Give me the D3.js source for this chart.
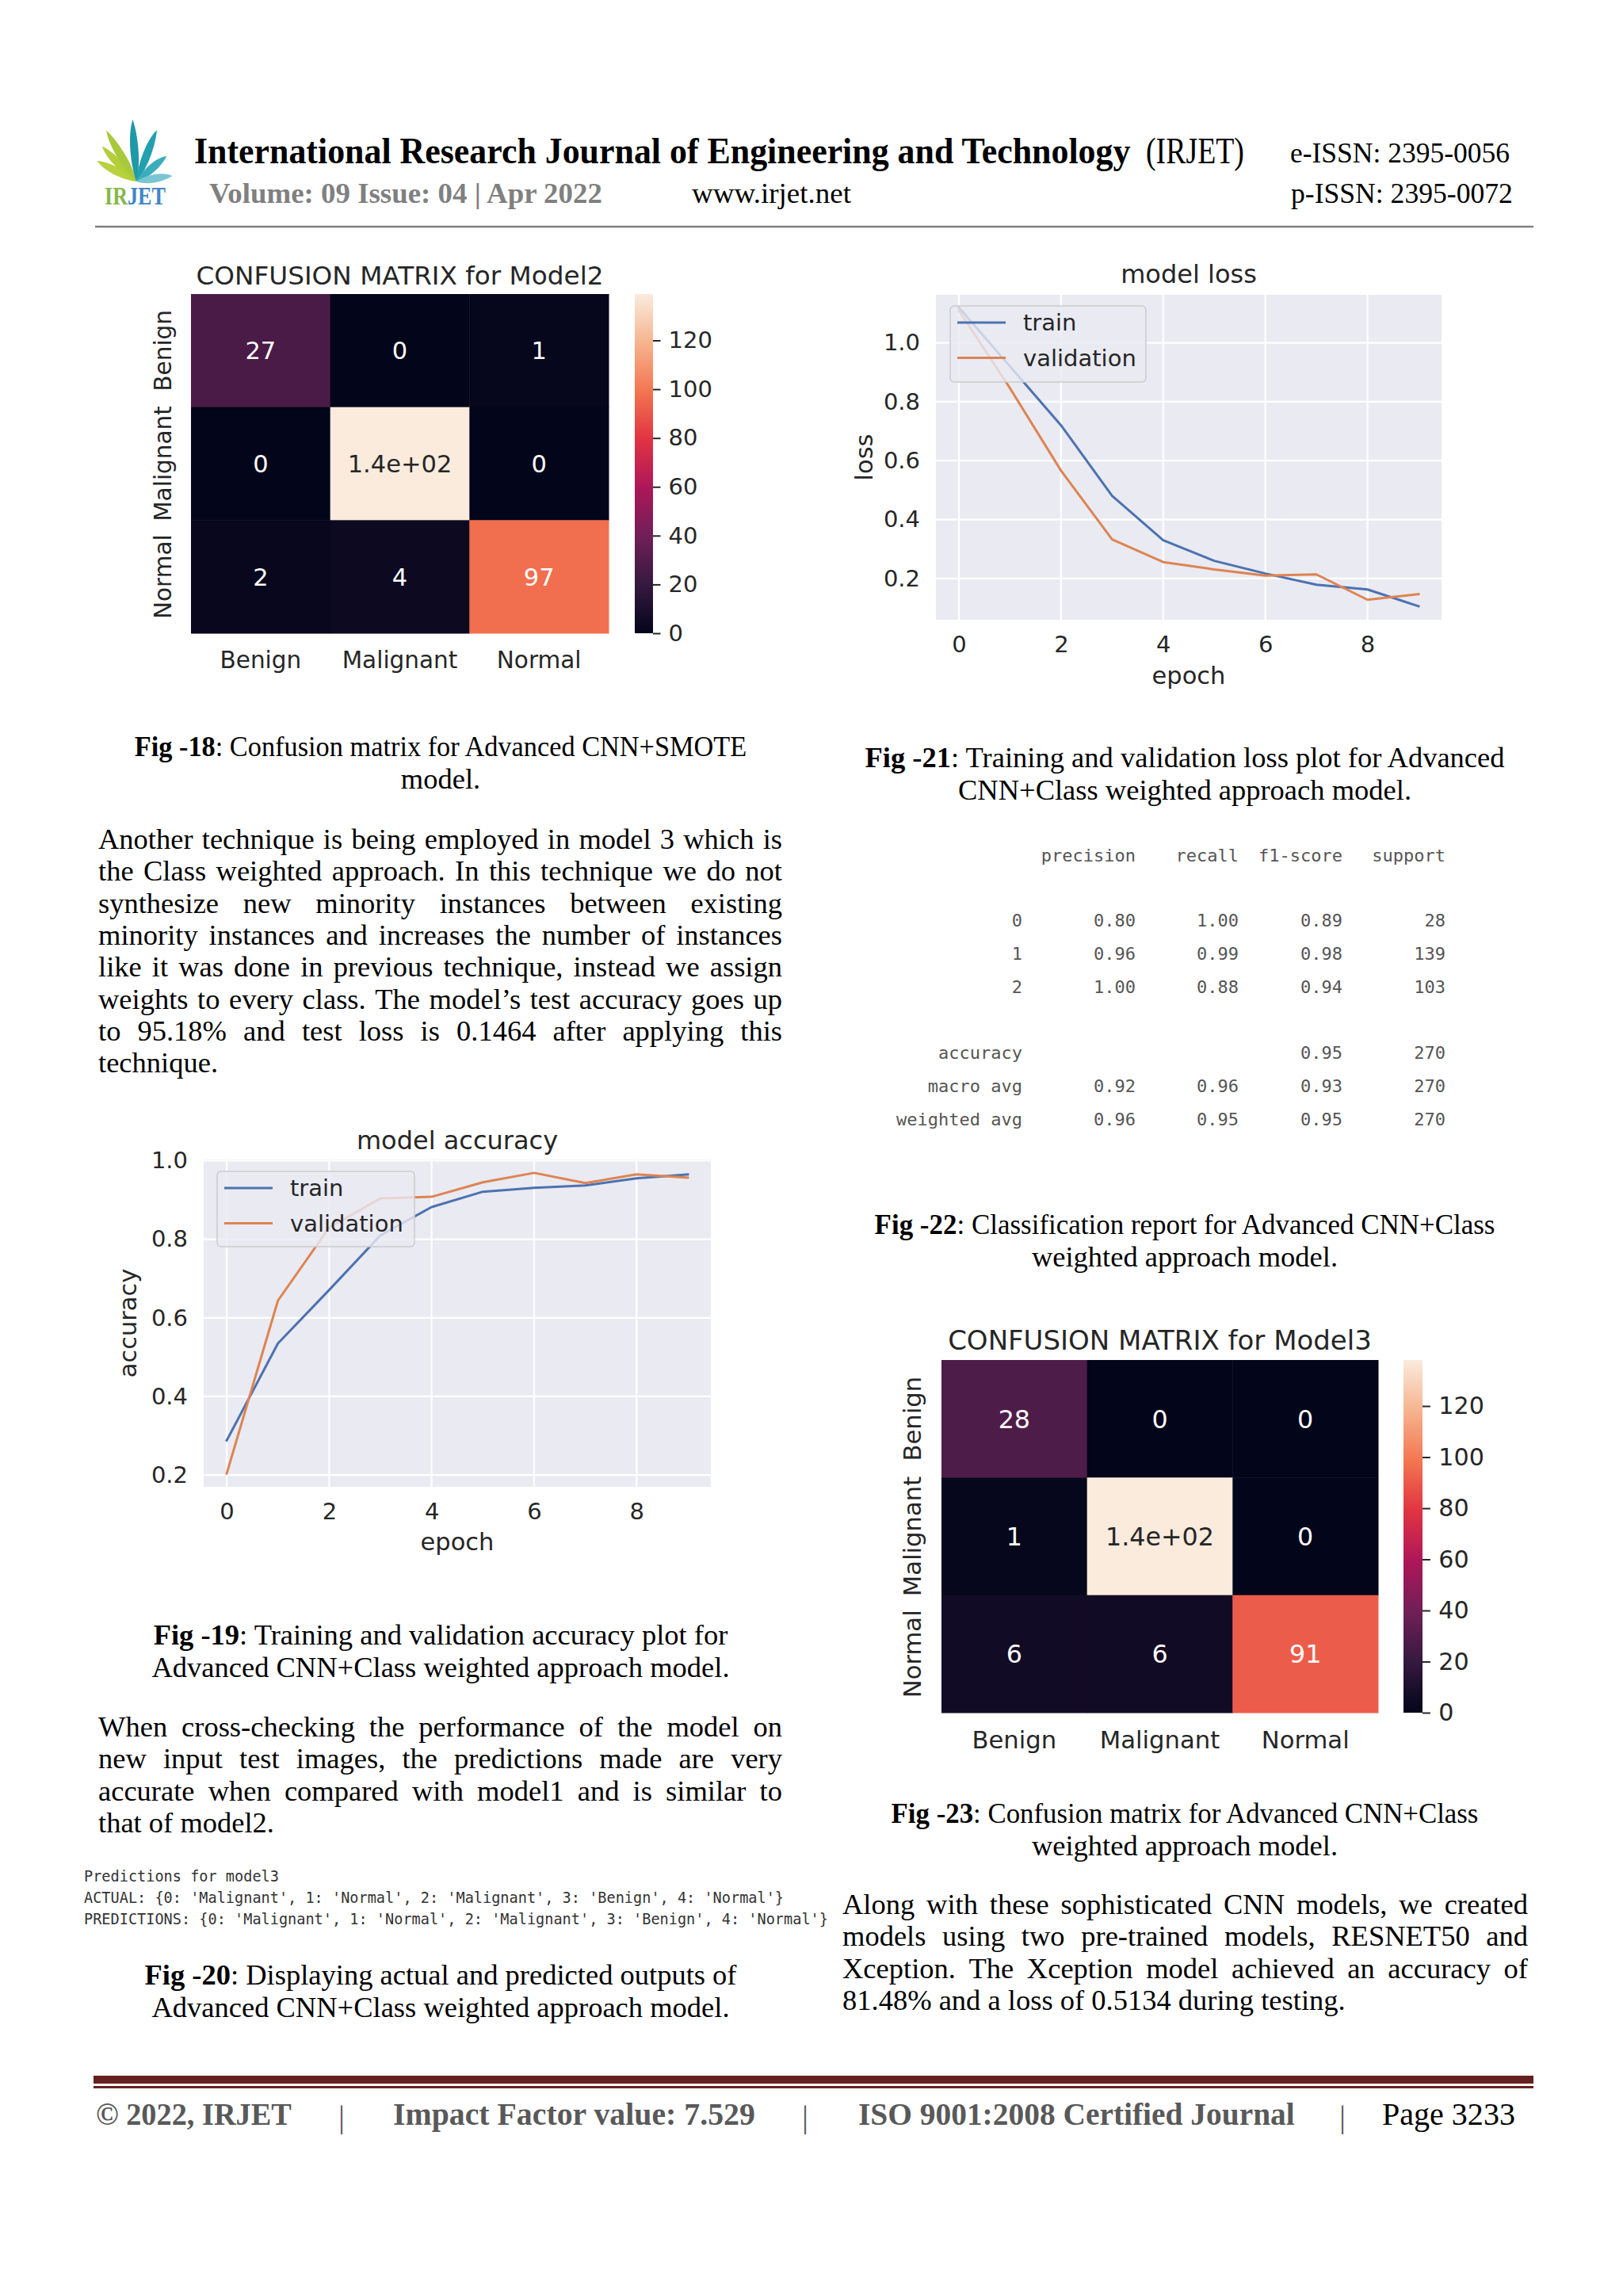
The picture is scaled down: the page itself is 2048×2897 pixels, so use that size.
<!DOCTYPE html>
<html>
<head>
<meta charset="utf-8">
<script src="https://cdn.jsdelivr.net/npm/d3@7"></script>
<style>
  body { margin: 0; background: #fff; }
  svg { display: block; }
</style>
</head>
<body>
<script>
// ---- data ----
const classes = ["Benign", "Malignant", "Normal"];
const cmModel2 = [[27, 0, 1], [0, 139, 0], [2, 4, 97]];
const cmModel3 = [[28, 0, 0], [1, 138, 0], [6, 6, 91]];
const colorbarTicks = [0, 20, 40, 60, 80, 100, 120];

const epochs = [0, 1, 2, 3, 4, 5, 6, 7, 8, 9];
const epochTicks = [0, 2, 4, 6, 8];
const accTrain = [0.288, 0.535, 0.671, 0.81, 0.882, 0.921, 0.931, 0.937, 0.955, 0.965];
const accVal   = [0.204, 0.644, 0.83, 0.904, 0.908, 0.945, 0.969, 0.943, 0.965, 0.957];
const accTicks = [0.2, 0.4, 0.6, 0.8, 1.0];
const lossTrain = [1.12, 0.92, 0.72, 0.481, 0.33, 0.26, 0.217, 0.179, 0.163, 0.106];
const lossVal   = [1.11, 0.846, 0.566, 0.333, 0.256, 0.231, 0.21, 0.214, 0.128, 0.147];
const lossTicks = [0.2, 0.4, 0.6, 0.8, 1.0];

const reportHeader = ["precision", "recall", "f1-score", "support"];
const reportClassRows = [
  ["0", "0.80", "1.00", "0.89", "28"],
  ["1", "0.96", "0.99", "0.98", "139"],
  ["2", "1.00", "0.88", "0.94", "103"]
];
const reportAvgRows = [
  ["accuracy", "", "", "0.95", "270"],
  ["macro avg", "0.92", "0.96", "0.93", "270"],
  ["weighted avg", "0.96", "0.95", "0.95", "270"]
];
const predictionLines = [
  "Predictions for model3",
  "ACTUAL: {0: 'Malignant', 1: 'Normal', 2: 'Malignant', 3: 'Benign', 4: 'Normal'}",
  "PREDICTIONS: {0: 'Malignant', 1: 'Normal', 2: 'Malignant', 3: 'Benign', 4: 'Normal'}"
];

const para1 = [
  "Another technique is being employed in model 3 which is",
  "the Class weighted approach. In this technique we do not",
  "synthesize new minority instances between existing",
  "minority instances and increases the number of instances",
  "like it was done in previous technique, instead we assign",
  "weights to every class. The model\u2019s test accuracy goes up",
  "to 95.18% and test loss is 0.1464 after applying this",
  "technique."
];
const para2 = [
  "When cross-checking the performance of the model on",
  "new input test images, the predictions made are very",
  "accurate when compared with model1 and is similar to",
  "that of model2."
];
const para3 = [
  "Along with these sophisticated CNN models, we created",
  "models using two pre-trained models, RESNET50 and",
  "Xception. The Xception model achieved an accuracy of",
  "81.48% and a loss of 0.5134 during testing."
];

// seaborn "rocket"
const rocket = ["#03051a", "#35193e", "#701f57", "#ad1759", "#e13342", "#f37651", "#f6b48f", "#faebdd"];
const blue = "#4c72b0", orange = "#dd8452";
const ink = "#262626";
const chartFont = "DejaVu Sans";
const serif = "Liberation Serif";
const mono = "DejaVu Sans Mono";

const svg = d3.select("body").append("svg")
  .attr("width", 2048).attr("height", 2897)
  .style("background", "#fff");

// ---- helpers ----
// text squeezed (or stretched) horizontally to a given width
function fitText(x, y, s, len, o) {
  const t = svg.append("text")
    .attr("transform", `translate(${x},${y})`)
    .attr("text-anchor", o.anchor || "start")
    .attr("font-family", o.family || serif)
    .attr("font-size", o.size)
    .attr("font-weight", o.weight || "normal")
    .attr("fill", o.fill || "#000")
    .text(s);
  const nat = t.node().getComputedTextLength();
  t.attr("transform", `translate(${x},${y}) scale(${len / nat},1)`);
  return t;
}

function caption(cx, y, fig, rest, second, len) {
  const t = svg.append("text").attr("transform", `translate(${cx},${y})`)
    .attr("text-anchor", "middle").attr("font-family", serif).attr("font-size", 36.5);
  t.append("tspan").attr("font-weight", "bold").text(fig);
  t.append("tspan").text(rest);
  if (len) {
    const nat = t.node().getComputedTextLength();
    t.attr("transform", `translate(${cx},${y}) scale(${len / nat},1)`);
  }
  svg.append("text").attr("x", cx).attr("y", y + 40.5)
    .attr("text-anchor", "middle").attr("font-family", serif).attr("font-size", 36.5)
    .text(second);
}

// justified paragraph: each word is placed so the line fills the column
function paragraph(lines, x0, width, y0) {
  const lh = 40.3, fs = 36.5;
  lines.forEach((line, i) => {
    const words = line.split(" ");
    const t = svg.append("text").attr("y", y0 + i * lh)
      .attr("font-family", serif).attr("font-size", fs);
    const spans = t.selectAll("tspan").data(words).join("tspan").text(d => d);
    const widths = spans.nodes().map(n => n.getComputedTextLength());
    const last = i === lines.length - 1;
    const gap = last ? fs * 0.25 : (width - d3.sum(widths)) / (words.length - 1);
    let cx = x0;
    spans.attr("x", (d, j) => { const v = cx; cx += widths[j] + gap; return v; });
  });
}

function fmt2g(v) {
  const s = v.toPrecision(2);
  return s.includes("e") ? s.replace(/e([+-])(\d)$/, "e$10$2") : String(parseFloat(s));
}

function luminance(c) {
  const rgb = d3.rgb(c);
  const f = u => { u /= 255; return u <= 0.03928 ? u / 12.92 : Math.pow((u + 0.055) / 1.055, 2.4); };
  return 0.2126 * f(rgb.r) + 0.7152 * f(rgb.g) + 0.0722 * f(rgb.b);
}

// ---- confusion matrix heatmap ----
function heatmap(m, o) {
  const g = svg.append("g");
  const k = o.scale;
  const vmax = d3.max(m.flat());
  const color = d3.scaleLinear()
    .domain(rocket.map((_, i) => i / (rocket.length - 1) * vmax))
    .range(rocket);
  const x = d3.scaleBand().domain(d3.range(3)).range([o.x0, o.x1]);
  const y = d3.scaleBand().domain(d3.range(3)).range([o.y0, o.y1]);

  const cells = m.flatMap((row, r) => row.map((v, c) => ({ r, c, v })));
  g.selectAll("rect.cell").data(cells).join("rect").attr("class", "cell")
    .attr("x", d => x(d.c)).attr("y", d => y(d.r))
    .attr("width", x.bandwidth() + 0.5).attr("height", y.bandwidth() + 0.5)
    .attr("fill", d => color(d.v));
  g.selectAll("text.annot").data(cells).join("text").attr("class", "annot")
    .attr("x", d => x(d.c) + x.bandwidth() / 2)
    .attr("y", d => y(d.r) + y.bandwidth() / 2)
    .attr("dy", "0.36em").attr("text-anchor", "middle")
    .attr("font-family", chartFont).attr("font-size", 30.5 * k)
    .attr("fill", d => luminance(color(d.v)) > 0.408 ? ink : "#ffffff")
    .text(d => fmt2g(d.v));

  // column labels
  const xa = g.append("g").attr("transform", `translate(0,${o.y1})`)
    .call(d3.axisBottom(x).tickSize(0).tickPadding(o.colPad).tickFormat(i => classes[i]));
  xa.select(".domain").remove();
  xa.attr("font-family", chartFont).attr("font-size", 29.5 * k);
  xa.selectAll("text").attr("fill", ink);

  // row labels, vertical
  g.selectAll("text.rowlab").data(classes).join("text").attr("class", "rowlab")
    .attr("transform", (d, i) => `translate(${o.rowX},${y(i) + y.bandwidth() / 2}) rotate(-90)`)
    .attr("text-anchor", "middle")
    .attr("font-family", chartFont).attr("font-size", 29.5 * k).attr("fill", ink)
    .text(d => d);

  // title
  g.append("text").attr("x", (o.x0 + o.x1) / 2).attr("y", o.titleY)
    .attr("text-anchor", "middle").attr("font-family", chartFont)
    .attr("font-size", 32.7 * k).attr("fill", ink).text(o.title);

  // colorbar
  const gid = "grad" + o.id;
  const grad = svg.append("defs").append("linearGradient").attr("id", gid)
    .attr("x1", 0).attr("y1", 1).attr("x2", 0).attr("y2", 0);
  grad.selectAll("stop").data(rocket).join("stop")
    .attr("offset", (d, i) => i / (rocket.length - 1)).attr("stop-color", d => d);
  g.append("rect").attr("x", o.cbX).attr("y", o.y0)
    .attr("width", o.cbW).attr("height", o.y1 - o.y0).attr("fill", `url(#${gid})`);
  const cb = d3.scaleLinear().domain([0, vmax]).range([o.y1, o.y0]);
  const ca = g.append("g").attr("transform", `translate(${o.cbX + o.cbW},0)`)
    .call(d3.axisRight(cb).tickValues(colorbarTicks).tickSize(9.5 * k).tickPadding(10 * k));
  ca.select(".domain").remove();
  ca.attr("font-family", chartFont).attr("font-size", 29 * k);
  ca.selectAll("text").attr("fill", ink);
  ca.selectAll("line").attr("stroke", ink).attr("stroke-width", 2);
}

// ---- training curves ----
function lineChart(o) {
  const g = svg.append("g");
  const x = d3.scaleLinear().domain([-0.45, 9.45]).range([o.x0, o.x1]);
  const y = d3.scaleLinear().domain(o.yDomain).range([o.y1, o.y0]);

  g.append("rect").attr("x", o.x0).attr("y", o.y0)
    .attr("width", o.x1 - o.x0).attr("height", o.y1 - o.y0).attr("fill", "#eaeaf2");
  g.append("g").selectAll("line").data(epochTicks).join("line")
    .attr("x1", d => x(d)).attr("x2", d => x(d)).attr("y1", o.y0).attr("y2", o.y1)
    .attr("stroke", "#fff").attr("stroke-width", 2.2);
  g.append("g").selectAll("line").data(o.yTicks).join("line")
    .attr("y1", d => y(d)).attr("y2", d => y(d)).attr("x1", o.x0).attr("x2", o.x1)
    .attr("stroke", "#fff").attr("stroke-width", 2.2);

  const xa = g.append("g").attr("transform", `translate(0,${o.y1})`)
    .call(d3.axisBottom(x).tickValues(epochTicks).tickSize(0).tickPadding(20));
  const ya = g.append("g").attr("transform", `translate(${o.x0},0)`)
    .call(d3.axisLeft(y).tickValues(o.yTicks).tickSize(0).tickPadding(20).tickFormat(d3.format(".1f")));
  [xa, ya].forEach(a => {
    a.select(".domain").remove();
    a.attr("font-family", chartFont).attr("font-size", 29);
    a.selectAll("text").attr("fill", ink);
  });

  const line = d3.line().x((d, i) => x(epochs[i])).y(d => y(d));
  o.series.forEach(s => {
    g.append("path").attr("d", line(s.values)).attr("fill", "none")
      .attr("stroke", s.color).attr("stroke-width", 3)
      .attr("stroke-linejoin", "round").attr("stroke-linecap", "square");
  });

  g.append("text").attr("x", (o.x0 + o.x1) / 2).attr("y", o.titleY)
    .attr("text-anchor", "middle").attr("font-family", chartFont)
    .attr("font-size", 32).attr("fill", ink).text(o.title);
  g.append("text").attr("x", (o.x0 + o.x1) / 2).attr("y", o.xLabelY)
    .attr("text-anchor", "middle").attr("font-family", chartFont)
    .attr("font-size", 30.5).attr("fill", ink).text("epoch");
  g.append("text")
    .attr("transform", `translate(${o.yLabelX},${(o.y0 + o.y1) / 2}) rotate(-90)`)
    .attr("text-anchor", "middle").attr("font-family", chartFont)
    .attr("font-size", 30.5).attr("fill", ink).text(o.yLabel);

  // legend
  const L = o.legend;
  g.append("rect").attr("x", L.x).attr("y", L.y).attr("width", L.w).attr("height", L.h)
    .attr("rx", 5).attr("fill", "#eaeaf2").attr("fill-opacity", 0.8)
    .attr("stroke", "#cccccc").attr("stroke-width", 1.5);
  const items = g.append("g").selectAll("g").data(o.series).join("g")
    .attr("transform", (d, i) => `translate(0,${L.y + 21 + i * 44.5})`);
  items.append("line").attr("x1", L.x + 9).attr("x2", L.x + 70)
    .attr("stroke", d => d.color).attr("stroke-width", 3);
  items.append("text").attr("x", L.x + 92).attr("dy", "0.35em")
    .attr("font-family", chartFont).attr("font-size", 29).attr("fill", ink)
    .text(d => d.name);
}

// ---- header ----
const logo = svg.append("g").attr("transform", "translate(172,229)");
const leaves = [
  { a: -63, l: 56, c: "#b8d13c" }, { a: -45, l: 62, c: "#b3ce3b" },
  { a: -31, l: 75, c: "#a8c93b" }, { a: -4, l: 78, c: "#1f98a7" },
  { a: 21, l: 70, c: "#249fae" }, { a: 49, l: 50, c: "#3aaebd" },
  { a: 80, l: 46, c: "#79c6d3" }
];
logo.selectAll("path").data(leaves).join("path")
  .attr("transform", d => `rotate(${d.a})`)
  .attr("d", d => `M0,0 C8,${-d.l * 0.3} 6,${-d.l * 0.75} 1,${-d.l} C-6,${-d.l * 0.8} -7,${-d.l * 0.35} 0,0Z`)
  .attr("fill", d => d.c);
const irjet = svg.append("text").attr("transform", "translate(132,258)")
  .attr("font-family", serif).attr("font-size", 31).attr("font-weight", "bold");
irjet.append("tspan").attr("fill", "#86b84a").text("IR");
irjet.append("tspan").attr("fill", "#3f86c8").text("JET");
irjet.attr("transform", `translate(132,258) scale(${77 / irjet.node().getComputedTextLength()},1)`);

fitText(245, 206, "International Research Journal of Engineering and Technology", 1182, { size: 46, weight: "bold" });
fitText(1446, 206, "(IRJET)", 124, { size: 46 });
fitText(1628, 205, "e-ISSN: 2395-0056", 277, { size: 36 });
fitText(264, 256, "Volume: 09 Issue: 04 | Apr 2022", 496, { size: 36, weight: "bold", fill: "#808080" });
fitText(873, 256, "www.irjet.net", 201, { size: 36 });
fitText(1629, 256, "p-ISSN: 2395-0072", 280, { size: 36 });
svg.append("line").attr("x1", 120).attr("x2", 1935).attr("y1", 286).attr("y2", 286)
  .attr("stroke", "#808080").attr("stroke-width", 2.5);

// ---- figures ----
heatmap(cmModel2, {
  id: 2, title: "CONFUSION MATRIX for Model2", scale: 1,
  x0: 241, x1: 768, y0: 371, y1: 799, titleY: 359,
  rowX: 216, colPad: 23, cbX: 801, cbW: 23
});
heatmap(cmModel3, {
  id: 3, title: "CONFUSION MATRIX for Model3", scale: 1.04,
  x0: 1188, x1: 1739, y0: 1716, y1: 2161, titleY: 1703,
  rowX: 1162, colPad: 23, cbX: 1771, cbW: 24
});

lineChart({
  title: "model loss", yLabel: "loss",
  x0: 1181, x1: 1819, y0: 372, y1: 782, yDomain: [0.060, 1.163], yTicks: lossTicks,
  titleY: 357, xLabelY: 863, yLabelX: 1101,
  series: [{ name: "train", values: lossTrain, color: blue }, { name: "validation", values: lossVal, color: orange }],
  legend: { x: 1199, y: 386, w: 247, h: 96 }
});
lineChart({
  title: "model accuracy", yLabel: "accuracy",
  x0: 257, x1: 897, y0: 1463, y1: 1876, yDomain: [0.170, 1.003], yTicks: accTicks,
  titleY: 1450, xLabelY: 1956, yLabelX: 172,
  series: [{ name: "train", values: accTrain, color: blue }, { name: "validation", values: accVal, color: orange }],
  legend: { x: 274, y: 1478, w: 249, h: 95 }
});

// classification report
const colRight = [1433, 1563, 1694, 1824];
const rep = svg.append("g").attr("font-family", mono).attr("font-size", 22)
  .attr("fill", "#555").attr("text-anchor", "end");
rep.selectAll("text.h").data(reportHeader).join("text").attr("class", "h")
  .attr("x", (d, i) => colRight[i]).attr("y", 1087).text(d => d);
function reportBlock(rows, y0) {
  rows.forEach((row, r) => {
    rep.append("g").selectAll("text").data(row).join("text")
      .attr("x", (d, i) => i === 0 ? 1290 : colRight[i - 1])
      .attr("y", y0 + r * 42).text(d => d);
  });
}
reportBlock(reportClassRows, 1169);
reportBlock(reportAvgRows, 1336);

// printed predictions (fixed 11.18 px advance per character)
predictionLines.forEach((s, i) => {
  fitText(106, 2374 + i * 27, s, s.length * 11.18, { size: 18.6, family: mono, fill: "#333" });
});

// ---- captions and body text ----
caption(556, 954, "Fig -18", ": Confusion matrix for Advanced CNN+SMOTE", "model.", 773);
caption(556, 2075, "Fig -19", ": Training and validation accuracy plot for", "Advanced CNN+Class weighted approach model.");
caption(556, 2504, "Fig -20", ": Displaying actual and predicted outputs of", "Advanced CNN+Class weighted approach model.");
caption(1495, 968, "Fig -21", ": Training and validation loss plot for Advanced", "CNN+Class weighted approach model.");
caption(1495, 1557, "Fig -22", ": Classification report for Advanced CNN+Class", "weighted approach model.", 783);
caption(1495, 2300, "Fig -23", ": Confusion matrix for Advanced CNN+Class", "weighted approach model.", 741);

paragraph(para1, 124, 863, 1071);
paragraph(para2, 124, 863, 2191);
paragraph(para3, 1063, 865, 2415);

// ---- footer ----
svg.append("rect").attr("x", 118).attr("y", 2619).attr("width", 1817).attr("height", 10).attr("fill", "#66201f");
svg.append("rect").attr("x", 118).attr("y", 2632).attr("width", 1817).attr("height", 3).attr("fill", "#66201f");
const footGray = "#595959";
fitText(121, 2681, "\u00a9 2022, IRJET", 247, { size: 40, weight: "bold", fill: footGray });
fitText(496, 2681, "Impact Factor value: 7.529", 457, { size: 40, weight: "bold", fill: footGray });
fitText(1083, 2681, "ISO 9001:2008 Certified Journal", 551, { size: 40, weight: "bold", fill: footGray });
fitText(1744, 2681, "Page 3233", 168, { size: 40 });
svg.append("g").selectAll("text").data([431, 1016, 1694]).join("text")
  .attr("x", d => d).attr("y", 2684).attr("text-anchor", "middle")
  .attr("font-family", serif).attr("font-size", 40).attr("fill", footGray).text("|");
</script>
</body>
</html>
